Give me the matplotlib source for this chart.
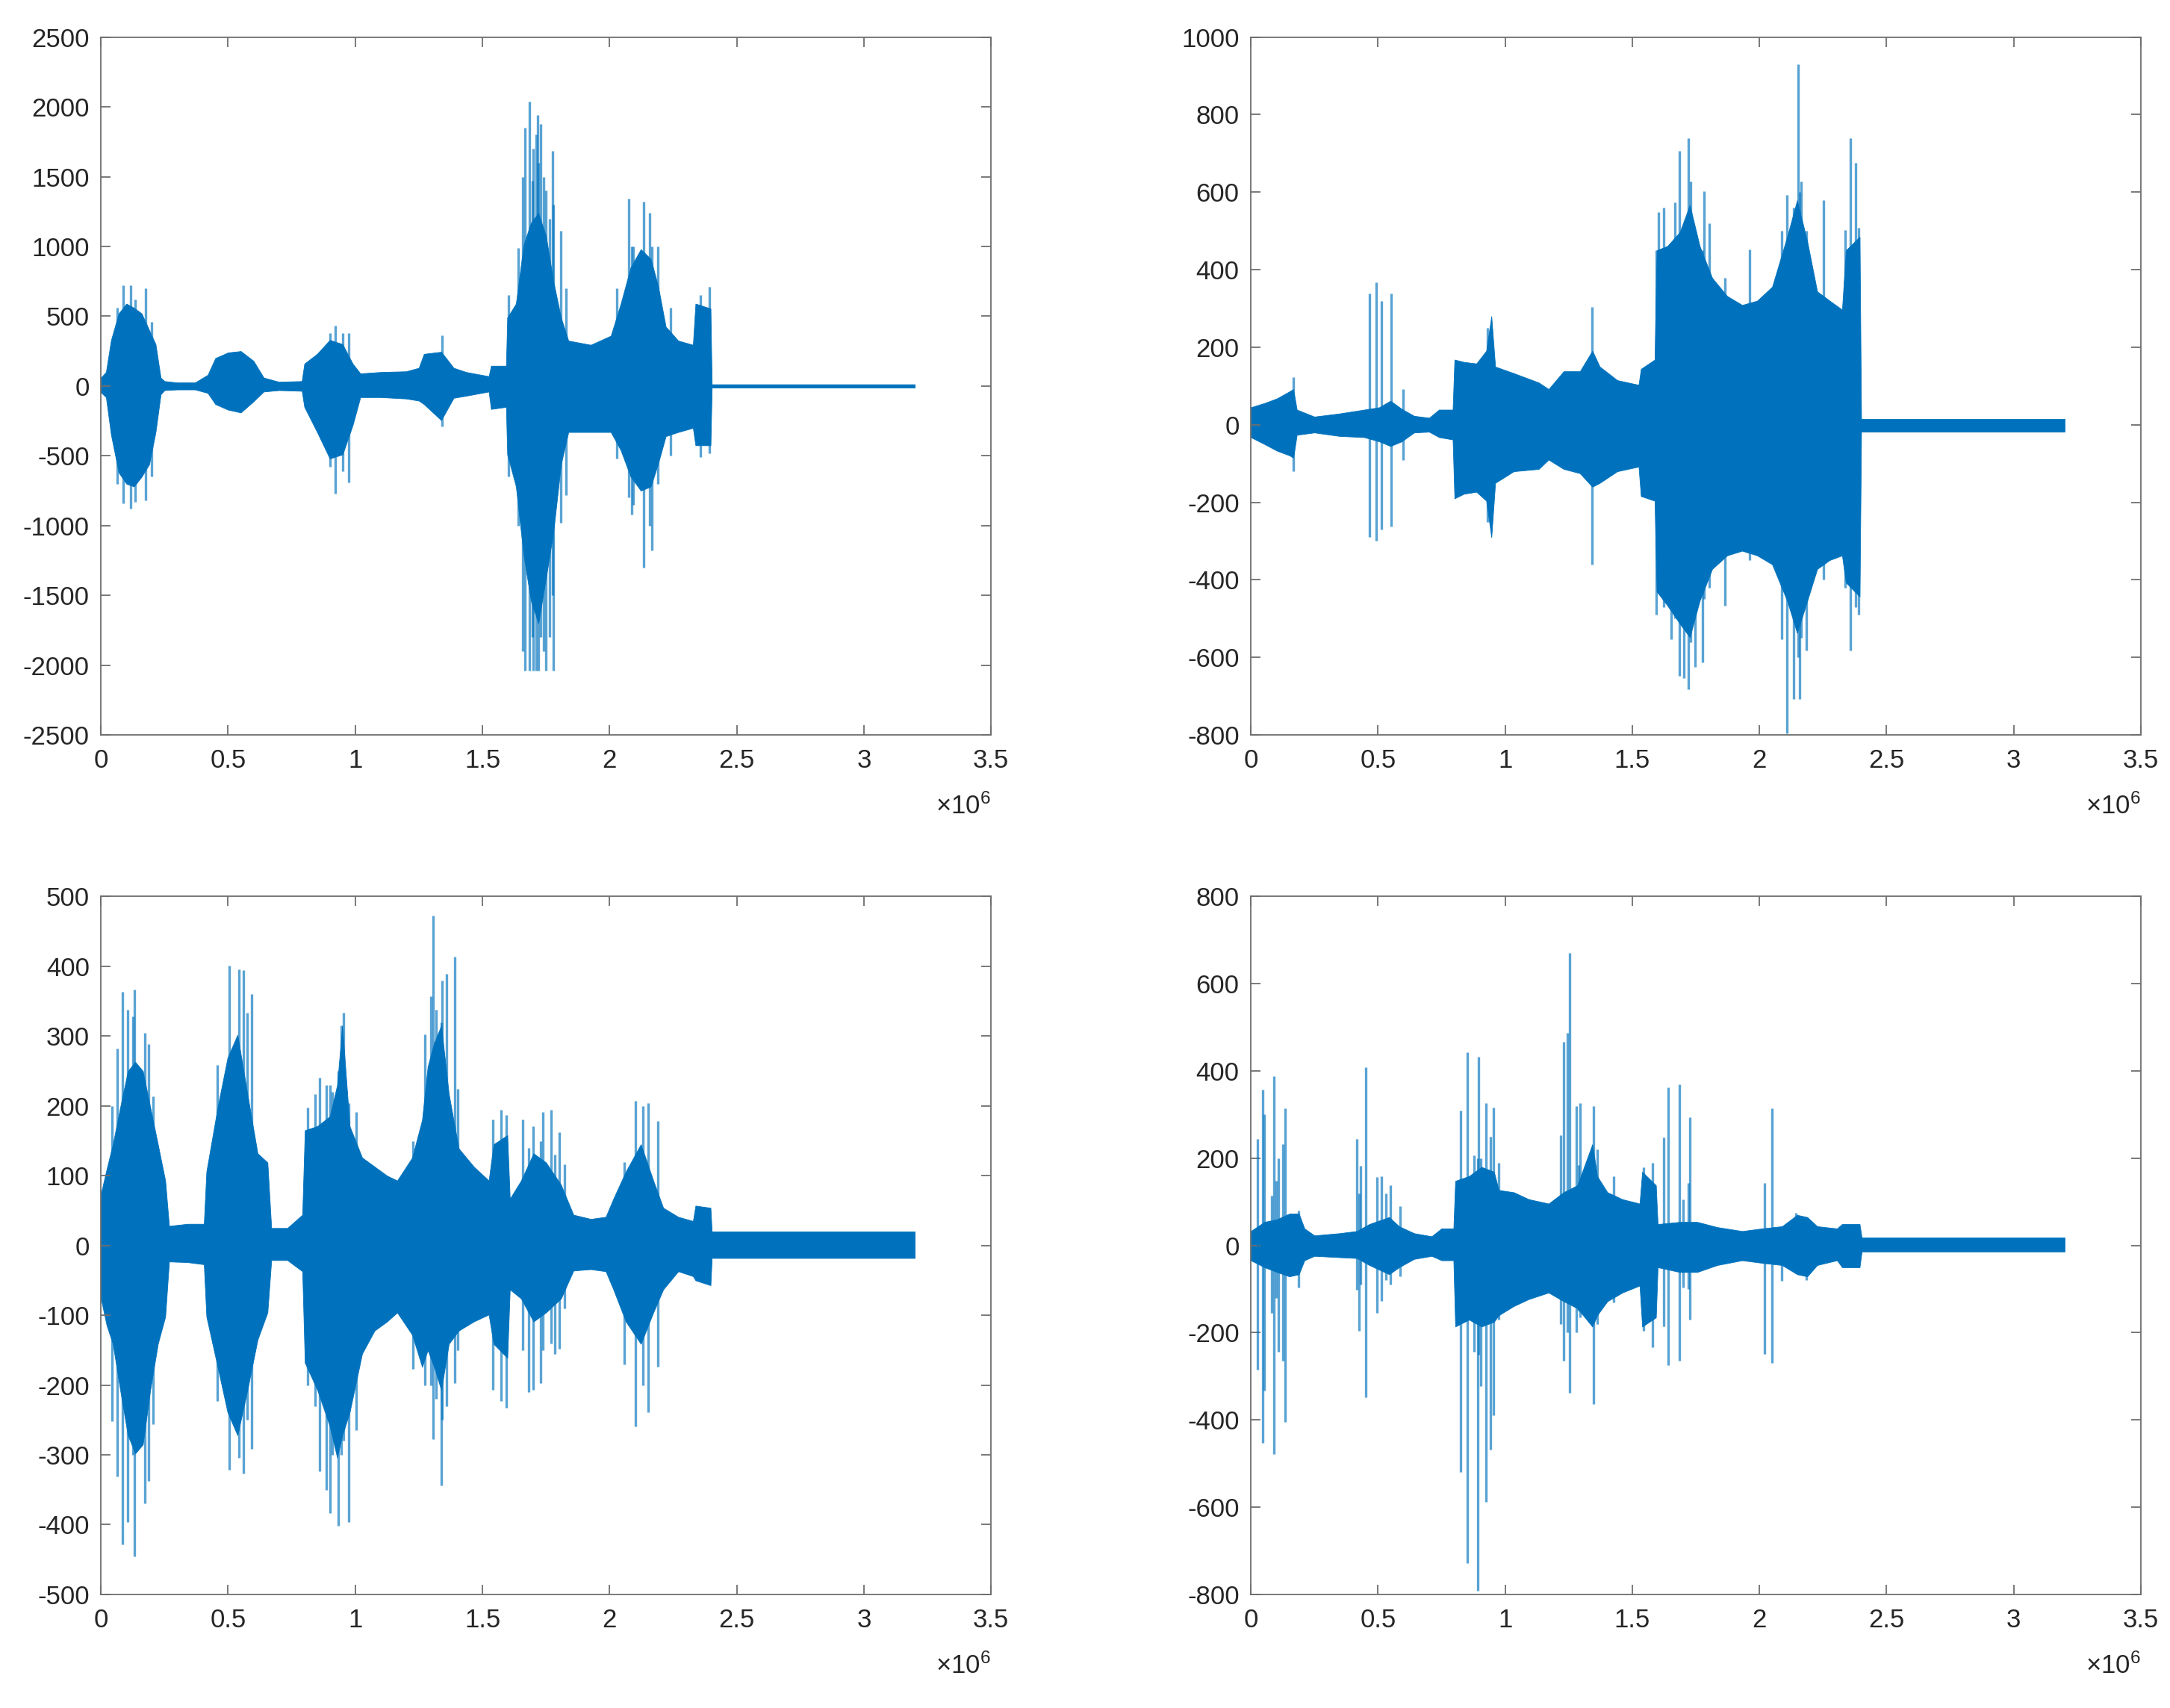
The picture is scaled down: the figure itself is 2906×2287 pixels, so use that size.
# Four waveform panels (2x2), MATLAB-style look
import numpy as np
import matplotlib
matplotlib.use('Agg')
import matplotlib.pyplot as plt
from matplotlib.ticker import FuncFormatter

plt.rcParams['font.family'] = ['Liberation Sans', 'DejaVu Sans']
plt.rcParams['mathtext.fontset'] = 'custom'
plt.rcParams['mathtext.rm'] = 'Liberation Sans'
plt.rcParams['mathtext.it'] = 'Liberation Sans:italic'
plt.rcParams['axes.unicode_minus'] = False

BLUE = '#0072BD'
AXC = '#6e6e6e'
TXT = '#262626'

# ---- panel 1 (top left): dense core envelope, x in units of 1e6 samples
env1_x = [0, 0.02, 0.04, 0.07, 0.1, 0.13, 0.16, 0.19, 0.215, 0.235, 0.25, 0.3, 0.37, 0.42, 0.45,
          0.5, 0.55, 0.6, 0.64, 0.7, 0.79, 0.8, 0.85, 0.9, 0.95, 0.99, 1.02, 1.1, 1.2, 1.25,
          1.27, 1.338, 1.387, 1.436, 1.525, 1.534, 1.593, 1.598, 1.632, 1.662, 1.691, 1.72, 1.75, 1.779, 1.809,
          1.838, 1.926, 2.005, 2.044, 2.083, 2.123, 2.162, 2.191, 2.221, 2.27, 2.328, 2.338, 2.397, 2.402, 3.2]
env1_hi = [60, 100, 330, 520, 590, 560, 520, 400, 300, 60, 35, 25, 25, 80, 200,
           240, 250, 180, 60, 30, 35, 160, 230, 330, 300, 160, 90, 100, 105, 130,
           230, 245, 130, 100, 70, 145, 145, 490, 590, 1010, 1170, 1240, 1075, 750, 490,
           325, 295, 360, 590, 850, 980, 910, 715, 425, 325, 295, 590, 555, 12, 12]
env1_lo = [-45, -80, -350, -620, -700, -720, -650, -560, -330, -60, -30, -25, -25, -50, -130,
           -170, -190, -110, -40, -30, -35, -150, -330, -520, -490, -280, -80, -80, -90, -105,
           -130, -245, -85, -70, -40, -165, -150, -490, -720, -1210, -1540, -1700, -1375, -1045, -560,
           -330, -330, -330, -460, -650, -750, -720, -555, -360, -330, -300, -425, -425, -12, -12]
# single tall samples
spk1_x = [0.065, 0.089, 0.116, 0.135, 0.177, 0.2, 0.9, 0.921, 0.95, 0.975, 1.34, 1.603, 1.64, 1.66,
          1.667, 1.686, 1.696, 1.701, 1.71, 1.716, 1.721, 1.73, 1.74, 1.75, 1.765, 1.775, 1.779, 1.809, 1.83,
          2.029, 2.075, 2.088, 2.093, 2.134, 2.157, 2.167, 2.191, 2.24, 2.358, 2.392]
spk1_hi = [560, 720, 720, 620, 700, 460, 380, 430, 380, 380, 365, 650, 990, 1500,
           1850, 2040, 1470, 1700, 1800, 1940, 1600, 1875, 1500, 1400, 1200, 1685, 1300, 1110, 700,
           700, 1340, 1000, 1000, 1320, 1240, 1000, 1000, 560, 650, 710]
spk1_lo = [-700, -840, -880, -830, -820, -650, -580, -770, -610, -690, -290, -650, -1000, -1900,
           -2040, -2040, -1800, -2040, -2040, -1600, -2040, -1800, -1900, -2040, -1800, -1500, -2040, -980, -780,
           -520, -800, -920, -850, -1300, -1000, -1180, -700, -500, -510, -480]

# ---- panel 2 (top right)
env2_x = [0, 0.054, 0.103, 0.152, 0.167, 0.181, 0.25, 0.348, 0.446, 0.505, 0.549, 0.593, 0.642, 0.701, 0.74,
          0.794, 0.801, 0.838, 0.887, 0.926, 0.946, 0.961, 1.034, 1.132, 1.171, 1.23, 1.294, 1.343, 1.372, 1.441,
          1.525, 1.534, 1.588, 1.596, 1.638, 1.687, 1.726, 1.765, 1.814, 1.873, 1.932, 1.991, 2.05, 2.109, 2.148,
          2.188, 2.227, 2.276, 2.325, 2.34, 2.394, 2.4, 3.2]
env2_hi = [45, 56, 68, 86, 92, 39, 21, 29, 39, 45, 62, 41, 23, 18, 39,
           39, 168, 162, 158, 191, 280, 150, 133, 109, 92, 138, 138, 191, 150, 115,
           103, 144, 168, 450, 461, 497, 567, 461, 379, 332, 309, 320, 356, 485, 579,
           473, 344, 320, 297, 450, 485, 15, 15]
env2_lo = [-32, -50, -67, -79, -85, -26, -20, -29, -32, -43, -55, -43, -20, -18, -32,
           -38, -190, -178, -173, -196, -290, -150, -120, -114, -90, -114, -125, -160, -150, -120,
           -108, -184, -196, -430, -466, -513, -548, -454, -372, -337, -325, -337, -360, -454, -537,
           -454, -372, -349, -337, -407, -443, -18, -18]
spk2_x = [0.167, 0.466, 0.492, 0.515, 0.551, 0.598, 0.93, 1.343, 1.595, 1.603, 1.623, 1.652, 1.667, 1.685,
          1.703, 1.721, 1.728, 1.748, 1.775, 1.783, 1.802, 1.863, 1.96, 2.089, 2.109, 2.134, 2.153, 2.158,
          2.163, 2.183, 2.251, 2.337, 2.358, 2.379, 2.389]
spk2_hi = [123, 338, 367, 320, 338, 92, 250, 303, 450, 549, 561, 470, 573, 706,
           520, 740, 627, 500, 450, 602, 520, 380, 452, 500, 593, 560, 929, 600,
           628, 500, 579, 502, 740, 675, 508]
spk2_lo = [-120, -290, -299, -270, -263, -90, -250, -360, -490, -430, -470, -554, -500, -648,
           -654, -683, -560, -625, -613, -450, -420, -466, -350, -554, -795, -707, -600, -707,
           -550, -583, -400, -420, -583, -470, -490]

# ---- panel 3 (bottom left)
env3_x = [0, 0.023, 0.047, 0.076, 0.106, 0.135, 0.165, 0.194, 0.224, 0.253, 0.268, 0.341, 0.405, 0.415, 0.459,
          0.498, 0.537, 0.576, 0.616, 0.655, 0.67, 0.733, 0.792, 0.802, 0.851, 0.9, 0.929, 0.949, 0.978, 1.027,
          1.076, 1.125, 1.165, 1.224, 1.263, 1.285, 1.31, 1.338, 1.368, 1.407, 1.466, 1.525, 1.544, 1.598, 1.608,
          1.652, 1.701, 1.75, 1.809, 1.858, 1.926, 1.985, 2.015, 2.064, 2.123, 2.172, 2.211, 2.27, 2.328, 2.338,
          2.397, 2.402, 3.2]
env3_hi = [74, 110, 145, 198, 250, 263, 250, 198, 145, 93, 28, 31, 31, 106, 198,
           269, 302, 217, 132, 119, 25, 25, 44, 165, 171, 185, 230, 315, 171, 126,
           113, 100, 93, 126, 180, 256, 290, 315, 217, 139, 113, 93, 145, 158, 67,
           93, 132, 119, 87, 44, 38, 41, 67, 106, 145, 93, 54, 41, 35, 57,
           54, 20, 20]
env3_lo = [-76, -115, -141, -207, -272, -298, -285, -207, -141, -102, -23, -24, -27, -102, -174,
           -239, -272, -207, -135, -96, -21, -21, -37, -168, -207, -259, -304, -272, -239, -155,
           -122, -109, -96, -128, -174, -150, -174, -207, -141, -122, -109, -99, -141, -161, -63,
           -76, -109, -96, -76, -36, -34, -37, -63, -109, -141, -96, -63, -37, -44, -50,
           -57, -18, -18]
spk3_x = [0.044, 0.065, 0.084, 0.106, 0.125, 0.133, 0.173, 0.187, 0.206, 0.457, 0.505, 0.542, 0.559, 0.576,
          0.593, 0.814, 0.841, 0.859, 0.885, 0.902, 0.91, 0.934, 0.944, 0.954, 0.974, 1.005, 1.228, 1.273,
          1.297, 1.306, 1.317, 1.338, 1.341, 1.358, 1.392, 1.402, 1.542, 1.574, 1.595, 1.66, 1.681, 1.701,
          1.73, 1.738, 1.77, 1.784, 1.801, 1.824, 2.059, 2.103, 2.132, 2.152, 2.191]
spk3_hi = [200, 282, 364, 338, 328, 367, 305, 289, 214, 259, 401, 396, 394, 334,
           360, 198, 217, 240, 230, 230, 220, 250, 315, 334, 204, 191, 150, 302,
           357, 473, 338, 320, 380, 389, 414, 224, 181, 194, 187, 181, 140, 171,
           150, 191, 194, 130, 162, 116, 120, 207, 200, 204, 178]
spk3_lo = [-252, -331, -428, -396, -300, -445, -370, -337, -256, -223, -321, -304, -327, -250,
           -291, -200, -230, -324, -350, -383, -300, -402, -300, -280, -396, -265, -177, -200,
           -200, -278, -220, -344, -250, -230, -197, -150, -207, -223, -233, -150, -210, -207,
           -197, -150, -140, -155, -148, -90, -171, -259, -200, -239, -174]

# ---- panel 4 (bottom right)
env4_x = [0, 0.054, 0.103, 0.152, 0.189, 0.211, 0.25, 0.348, 0.417, 0.466, 0.544, 0.583, 0.642, 0.711, 0.75,
          0.797, 0.804, 0.858, 0.907, 0.956, 0.975, 1.034, 1.093, 1.171, 1.23, 1.284, 1.343, 1.362, 1.402, 1.461,
          1.529, 1.539, 1.593, 1.6, 1.687, 1.755, 1.834, 1.932, 2.011, 2.089, 2.148, 2.188, 2.227, 2.305, 2.325,
          2.394, 2.402, 3.2]
env4_hi = [33, 54, 60, 73, 73, 39, 23, 28, 33, 49, 65, 44, 28, 21, 39,
           39, 148, 159, 180, 169, 127, 122, 106, 96, 122, 138, 232, 159, 122, 106,
           96, 169, 138, 49, 54, 54, 42, 33, 39, 44, 70, 65, 44, 39, 49,
           49, 18, 18]
env4_lo = [-34, -50, -61, -71, -66, -34, -24, -27, -29, -45, -66, -50, -31, -24, -34,
           -34, -186, -170, -186, -175, -160, -139, -123, -108, -128, -144, -186, -160, -128, -108,
           -92, -186, -165, -50, -61, -61, -45, -34, -40, -45, -66, -71, -45, -34, -50,
           -50, -14, -14]
spk4_x = [0.027, 0.047, 0.054, 0.081, 0.09, 0.101, 0.108, 0.125, 0.134, 0.187, 0.417, 0.426, 0.433, 0.453,
          0.495, 0.515, 0.532, 0.549, 0.588, 0.824, 0.85, 0.877, 0.892, 0.895, 0.905, 0.926, 0.941, 0.954,
          0.975, 1.218, 1.231, 1.245, 1.255, 1.279, 1.289, 1.294, 1.348, 1.362, 1.428, 1.544, 1.579, 1.623,
          1.642, 1.685, 1.701, 1.721, 1.726, 2.021, 2.048, 2.089, 2.143, 2.183]
spk4_hi = [244, 357, 300, 115, 388, 148, 200, 232, 315, 80, 244, 120, 182, 409,
           157, 159, 119, 138, 91, 310, 443, 206, 200, 432, 200, 326, 250, 317,
           190, 253, 467, 488, 670, 320, 185, 326, 320, 221, 159, 180, 190, 247,
           362, 370, 106, 143, 294, 143, 315, 44, 75, 60]
spk4_lo = [-285, -452, -332, -155, -478, -120, -243, -264, -405, -97, -102, -196, -90, -348,
           -155, -128, -80, -90, -70, -520, -729, -243, -791, -250, -322, -588, -468, -389,
           -170, -180, -264, -200, -337, -200, -150, -165, -363, -180, -130, -196, -233, -186,
           -275, -264, -97, -100, -170, -248, -269, -81, -60, -79]


def wave_panel(ax, ex, hi, lo, sx, shi, slo, ymin, ymax, ystep):
    ex = np.array(ex) * 1e6
    sx = np.array(sx) * 1e6
    ax.fill_between(ex, lo, hi, color=BLUE, lw=0.6, edgecolor=BLUE)
    ax.vlines(sx, slo, shi, color=BLUE, alpha=0.65, lw=2.4)
    ax.set_xlim(0, 3.5e6)
    ax.set_ylim(ymin, ymax)
    ax.set_xticks(np.arange(0, 3.51e6, 0.5e6))
    ax.set_yticks(np.arange(ymin, ymax + 1, ystep))
    ax.xaxis.set_major_formatter(FuncFormatter(lambda v, p: '%g' % (v / 1e6)))
    ax.yaxis.set_major_formatter(FuncFormatter(lambda v, p: '%d' % v))
    ax.tick_params(direction='in', top=True, right=True, length=9.5, width=1.3,
                   color=AXC, labelsize=25, labelcolor=TXT)
    ax.tick_params(axis='x', pad=13)
    ax.tick_params(axis='y', pad=11)
    for s in ax.spines.values():
        s.set_color(AXC)
        s.set_linewidth(1.3)
    ax.text(1.0, -0.113, r'$\times10^{6}$', transform=ax.transAxes, ha='right',
            va='baseline', fontsize=25, color=TXT)


fig = plt.figure(figsize=(29.06, 22.87), dpi=100)
w, h = 0.4102, 0.4086
ax1 = fig.add_axes([0.0465, 0.5697, w, h])
ax2 = fig.add_axes([0.5764, 0.5697, w, h])
ax3 = fig.add_axes([0.0465, 0.0665, w, h])
ax4 = fig.add_axes([0.5764, 0.0665, w, h])

wave_panel(ax1, env1_x, env1_hi, env1_lo, spk1_x, spk1_hi, spk1_lo, -2500, 2500, 500)
wave_panel(ax2, env2_x, env2_hi, env2_lo, spk2_x, spk2_hi, spk2_lo, -800, 1000, 200)
wave_panel(ax3, env3_x, env3_hi, env3_lo, spk3_x, spk3_hi, spk3_lo, -500, 500, 100)
wave_panel(ax4, env4_x, env4_hi, env4_lo, spk4_x, spk4_hi, spk4_lo, -800, 800, 200)

fig.savefig('out.png', dpi=100)
